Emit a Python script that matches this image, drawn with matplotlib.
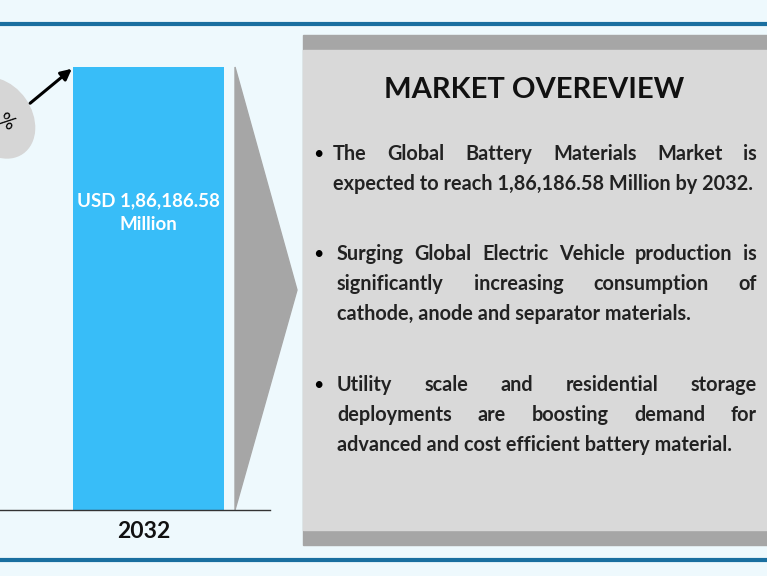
import matplotlib
matplotlib.use("Agg")
import matplotlib.pyplot as plt
from matplotlib.patches import Polygon, Rectangle, Ellipse, FancyArrowPatch

years = ["2032"]
values = [186186.58]
bar_label = "USD 1,86,186.58\nMillion"
title = "MARKET OVEREVIEW"
bullets = [
    ["The Global Battery Materials Market is", "expected to reach 1,86,186.58 Million by 2032."],
    ["Surging Global Electric Vehicle production is", "significantly increasing consumption of", "cathode, anode and separator materials."],
    ["Utility scale and residential storage", "deployments are boosting demand for", "advanced and cost efficient battery material."],
]

W, H = 767, 576
fig = plt.figure(figsize=(W/100, H/100), dpi=100)
fig.patch.set_facecolor("#eef9fd")
ax = fig.add_axes([0, 0, 1, 1])
ax.set_xlim(0, W); ax.set_ylim(H, 0); ax.axis("off")

font = "Lato"
FS = 14.3
ax.plot([0, W], [24, 24], color="#1a6fa0", lw=3)
ax.plot([0, W], [560, 560], color="#1a6fa0", lw=3)

scale = (510 - 67) / values[0]
ax.bar([148.5], [-v*scale for v in values], bottom=510, width=151, color="#38bdf8")
ax.text(148.5, 213, bar_label, ha="center", va="center", color="white", fontsize=13.5, fontweight="bold", family=font, linespacing=1.5)
ax.plot([0, 270], [510, 510], color="#333333", lw=1)
ax.text(144, 532, years[0], ha="center", va="center", fontsize=16.5, fontweight="bold", family=font, color="#111111")

ax.add_patch(Ellipse((-2, 118), 66, 86, angle=-35, color="#d6d6d6"))
ax.text(6, 122, "%", fontsize=14, rotation=-35, ha="center", va="center", family=font, clip_on=True)
ax.add_patch(FancyArrowPatch((28, 105), (74, 67), arrowstyle="-|>", mutation_scale=16, color="black", lw=2.2))

ax.add_patch(Polygon([[235, 67], [297, 290], [235, 510]], color="#a6a6a6"))

ax.add_patch(Rectangle((303, 35), W-303, 510, color="#a6a6a6"))
ax.add_patch(Rectangle((303, 50), W-303, 480, color="#d9d9d9"))
ax.text(534, 90, title, ha="center", va="center", fontsize=21, fontweight="bold", family=font, color="#111111")

fig.canvas.draw()
r = fig.canvas.get_renderer()
def wpx(s):
    t = ax.text(0, 0, s, fontsize=FS, fontweight="bold", family=font)
    w = t.get_window_extent(r).width
    t.remove()
    return w
right = 757
starts = [154, 254, 385]
for lines, y0 in zip(bullets, starts):
    ax.text(318, y0, "•", ha="center", va="center", fontsize=13, family=font)
    x0 = 333 if len(lines) == 2 else 337
    for i, ln in enumerate(lines):
        y = y0 + i*30
        words = ln.split()
        if i == len(lines)-1:
            ax.text(x0, y, ln, ha="left", va="center", fontsize=FS, fontweight="bold", family=font, color="#222222")
            continue
        ws = [wpx(w) for w in words]
        gap = (right - x0 - sum(ws)) / (len(words)-1)
        x = x0
        for w, wd in zip(words, ws):
            ax.text(x, y, w, ha="left", va="center", fontsize=FS, fontweight="bold", family=font, color="#222222")
            x += wd + gap

fig.savefig("out.png", dpi=100, facecolor=fig.get_facecolor())
